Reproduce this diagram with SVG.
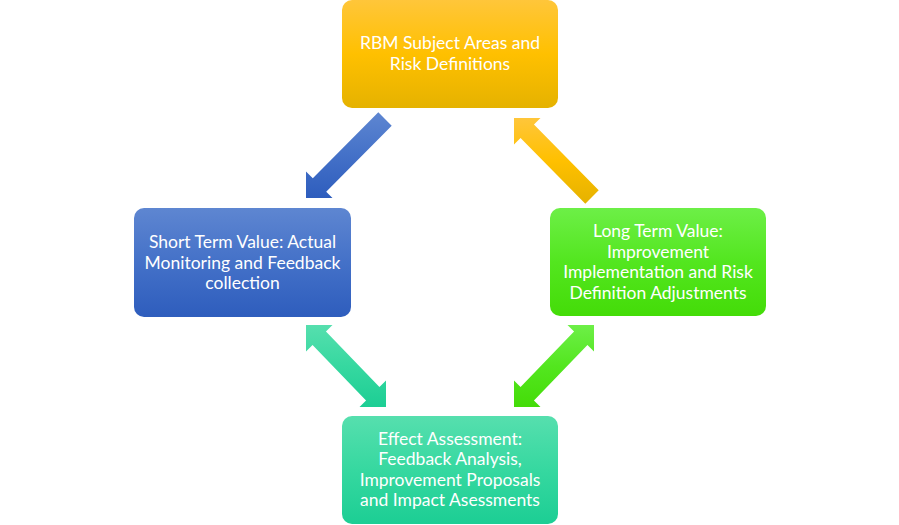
<svg xmlns="http://www.w3.org/2000/svg" width="899" height="525" viewBox="0 0 899 525">
<defs>
<linearGradient id="gOrange" x1="0" y1="0" x2="0" y2="1"><stop offset="0" stop-color="#FFC63A"/><stop offset="0.5" stop-color="#FFC000"/><stop offset="1" stop-color="#E5B200"/></linearGradient>
<linearGradient id="gBlue" x1="0" y1="0" x2="0" y2="1"><stop offset="0" stop-color="#5E86D1"/><stop offset="0.5" stop-color="#4471C8"/><stop offset="1" stop-color="#2E5DBD"/></linearGradient>
<linearGradient id="gGreen" x1="0" y1="0" x2="0" y2="1"><stop offset="0" stop-color="#6DEF47"/><stop offset="0.5" stop-color="#53E61F"/><stop offset="1" stop-color="#44DC08"/></linearGradient>
<linearGradient id="gTeal" x1="0" y1="0" x2="0" y2="1"><stop offset="0" stop-color="#56DFAE"/><stop offset="0.5" stop-color="#36D8A0"/><stop offset="1" stop-color="#1CCE94"/></linearGradient>
<style>
.t{font-family:Lato,"Liberation Sans",sans-serif;font-size:17.5px;fill:#FFFFFF;text-anchor:middle;}
</style>
</defs>
<g id="connectors">
<polygon id="arrow-top-left" fill="url(#gBlue)" points="378.3,112.3 312.8,178.3 306,171.5 306,198 332.5,198 326.2,191.7 391.7,125.7"/>
<polygon id="arrow-top-right" fill="url(#gOrange)" points="585.3,203.7 520.55,137.95 514,144.5 514,118 540.5,118 533.95,124.55 598.7,190.3"/>
<polygon id="arrow-bottom-left" fill="url(#gTeal)" points="306,325 332.5,325 325.95,331.55 379.45,387.05 386,380.5 386,407 359.5,407 366.05,400.45 312.55,344.95 306,351.5"/>
<polygon id="arrow-bottom-right" fill="url(#gGreen)" points="594,325 594,351.5 587.45,344.95 533.95,400.45 540.5,407 514,407 514,380.5 520.55,387.05 574.05,331.55 567.5,325"/>
</g>
<g id="node-rbm">
<rect x="342" y="0" width="216" height="108" rx="10" fill="url(#gOrange)"/>
<text class="t" x="450" y="49">RBM Subject Areas and</text>
<text class="t" x="450" y="69.5">Risk Definitions</text>
</g>
<g id="node-short">
<rect x="134" y="208" width="217" height="109" rx="10" fill="url(#gBlue)"/>
<text class="t" x="242.5" y="248">Short Term Value: Actual</text>
<text class="t" x="242.5" y="268.5">Monitoring and Feedback</text>
<text class="t" x="242.5" y="289">collection</text>
</g>
<g id="node-long">
<rect x="550" y="208" width="216" height="108" rx="10" fill="url(#gGreen)"/>
<text class="t" x="658" y="237">Long Term Value:</text>
<text class="t" x="658" y="257.5">Improvement</text>
<text class="t" x="658" y="278">Implementation and Risk</text>
<text class="t" x="658" y="298.5">Definition Adjustments</text>
</g>
<g id="node-effect">
<rect x="342" y="416" width="216" height="108" rx="10" fill="url(#gTeal)"/>
<text class="t" x="450" y="444.5">Effect Assessment:</text>
<text class="t" x="450" y="465">Feedback Analysis,</text>
<text class="t" x="450" y="485.5">Improvement Proposals</text>
<text class="t" x="450" y="506">and Impact Asessments</text>
</g>
</svg>
